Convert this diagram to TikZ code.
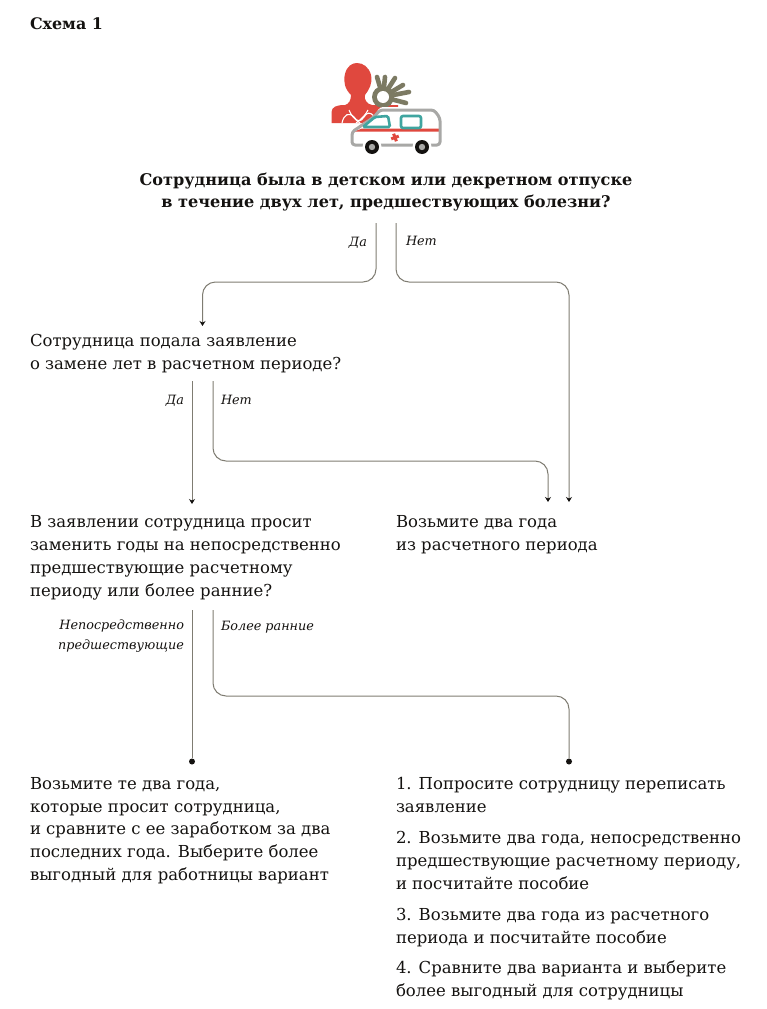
\documentclass[tikz,border=0pt]{standalone}
\usepackage{fontspec}
\setmainfont{DejaVu Serif}
\usetikzlibrary{arrows.meta}
\definecolor{ln}{HTML}{7F7C72}
\definecolor{ink}{HTML}{141210}
\definecolor{rd}{HTML}{E0483E}
\definecolor{ol}{HTML}{7C7A63}
\definecolor{gy}{HTML}{A8A8A6}
\definecolor{tl}{HTML}{3FA5A0}
\tikzset{
 x=1pt,y=-1pt,
 txt/.style={anchor=base west,inner sep=0pt,outer sep=0pt,align=left,text=ink,font=\fontsize{16.5}{23}\selectfont},
 ttl/.style={anchor=base,inner sep=0pt,outer sep=0pt,align=center,text=ink,font=\fontsize{16.1}{22}\selectfont\bfseries},
 lab/.style={inner sep=0pt,outer sep=0pt,text=ink,font=\fontsize{12.8}{19.5}\selectfont\itshape},
 lr/.style={lab,anchor=base east,align=right},
 ll/.style={lab,anchor=base west,align=left},
 con/.style={draw=ln,line width=1pt,rounded corners=13pt},
 arr/.style={con,-{Stealth[length=5pt,width=6pt,color=ink]}},
 dot/.style={circle,fill=ink,inner sep=0pt,minimum size=6pt},
}
\begin{document}
\begin{tikzpicture}
\useasboundingbox (0,0) rectangle (767,1009);
\node[txt,font=\fontsize{15.9}{20}\selectfont\bfseries] (sch) at (30,29) {Схема 1};
% icon
\begin{scope}
\fill[rd] (331.5,123) -- (331.5,112) .. controls (332,107) and (336,105) .. (345,105) .. controls (349,104) and (351,100) .. (351,95) .. controls (345,89) and (343,82) .. (345,74) .. controls (347,66) and (352,63) .. (357,63) .. controls (363,63) and (369,67) .. (371,75) .. controls (373,83) and (369,90) .. (365,95) .. controls (364,100) and (367,104) .. (372,105) -- (398,105) -- (398,123) -- cycle;
\draw[white,line width=1.1pt] (342,123) .. controls (344,114) and (349,112) .. (354,117) .. controls (357,122) and (361,122) .. (364,117) .. controls (367,112) and (370,112) .. (374,116);
\draw[white,line width=1.1pt] (349,110) .. controls (351,115) and (354,119) .. (360,123);
\draw[white,line width=1.1pt] (368,110) .. controls (366,114) and (363,118) .. (356,123);
\foreach \x/\y in {377/77,385/77,395/78,403/85,409/92,406/103}{
 \draw[ol,line width=4.6pt,line cap=round] (383,97) -- (\x,\y);
}
\fill[ol] (383,97) circle[radius=11];
\fill[white] (383,97) circle[radius=6];
\fill[white,rounded corners=3pt] (350,147) -- (350,129) -- (373,118) -- (380,107) -- (435,107) -- (442,118) -- (442,147) -- cycle;
\fill[rd] (354,131.5) -- (362,128.5) -- (439,128.5) -- (439,131.5) -- cycle;
\draw[gy,line width=3pt,line join=round,rounded corners=3pt] (352,145) -- (352,132) -- (374,117) -- (380,110) -- (434,110) -- (440,118) -- (440,145) -- cycle;
\draw[tl,line width=2.6pt,rounded corners=1.5pt] (363,127) -- (375,117) -- (388,116) -- (390,127) -- cycle;
\draw[tl,line width=2.6pt,rounded corners=2pt] (401,116) -- (421,116) -- (421,128) -- (401,128) -- cycle;
\fill[rd,rotate around={20:(395,137.5)}] (393.5,133.5) rectangle (396.5,141.5);
\fill[rd,rotate around={20:(395,137.5)}] (391,136) rectangle (399,139);
\fill[white] (372,147) circle[radius=9.5];
\fill[white] (422,147) circle[radius=9.5];
\fill[ink] (372,147) circle[radius=7];
\fill[ink] (422,147) circle[radius=7];
\fill[gy] (372,147) circle[radius=3.2];
\fill[gy] (422,147) circle[radius=3.2];
\end{scope}
% texts
\node[ttl] (q1) at (386,207) {Сотрудница была в детском или декретном отпуске\\в течение двух лет, предшествующих болезни?};
\node[txt] (q2) at (30,369) {Сотрудница подала заявление\\о замене лет в расчетном периоде?};
\node[txt] (q3) at (30,596) {В заявлении сотрудница просит\\заменить годы на непосредственно\\предшествующие расчетному\\периоду или более ранние?};
\node[txt] (r1) at (396,550) {Возьмите два года\\из расчетного периода};
\node[txt,font=\fontsize{16.5}{22.6}\selectfont] (r2) at (30,880) {Возьмите те два года,\\которые просит сотрудница,\\и сравните с ее заработком за два\\последних года. Выберите более\\выгодный для работницы вариант};
\node[txt] (s1) at (396,812) {1. Попросите сотрудницу переписать\\заявление};
\node[txt] (s2) at (396,889) {2. Возьмите два года, непосредственно\\предшествующие расчетному периоду,\\и посчитайте пособие};
\node[txt] (s3) at (396,943) {3. Возьмите два года из расчетного\\периода и посчитайте пособие};
\node[txt] (s4) at (396,996) {4. Сравните два варианта и выберите\\более выгодный для сотрудницы};
% labels
\node[lr] (a1) at (367,246) {Да};
\node[ll] (b1) at (406,245) {Нет};
\node[lr] (a2) at (184,404) {Да};
\node[ll] (b2) at (221,404) {Нет};
\node[lr] (a3) at (184,649) {Непосредственно\\предшествующие};
\node[ll] (b3) at (221,630) {Более ранние};
% connector ends
\coordinate (c1a) at (376,223);
\coordinate (c1b) at (396,223);
\coordinate (c2a) at (192,381);
\coordinate (c2b) at (213,381);
\coordinate (c3a) at (192,610);
\coordinate (c3b) at (213,610);
\node[dot] (d1) at (192,761.5) {};
\node[dot] (d2) at (569,761.5) {};
\draw[arr] (c1a) -- (376,282) -- (202.5,282) -- (202.5,326);
\draw[arr] (c1b) -- (396,282) -- (569,282) -- (569,502);
\draw[arr] (c2a) -- (192,504);
\draw[arr] (c2b) -- (213,461) -- (548,461) -- (548,502);
\draw[con] (c3a) -- (d1);
\draw[con] (c3b) -- (213,696) -- (569,696) -- (d2);
\end{tikzpicture}
\end{document}
